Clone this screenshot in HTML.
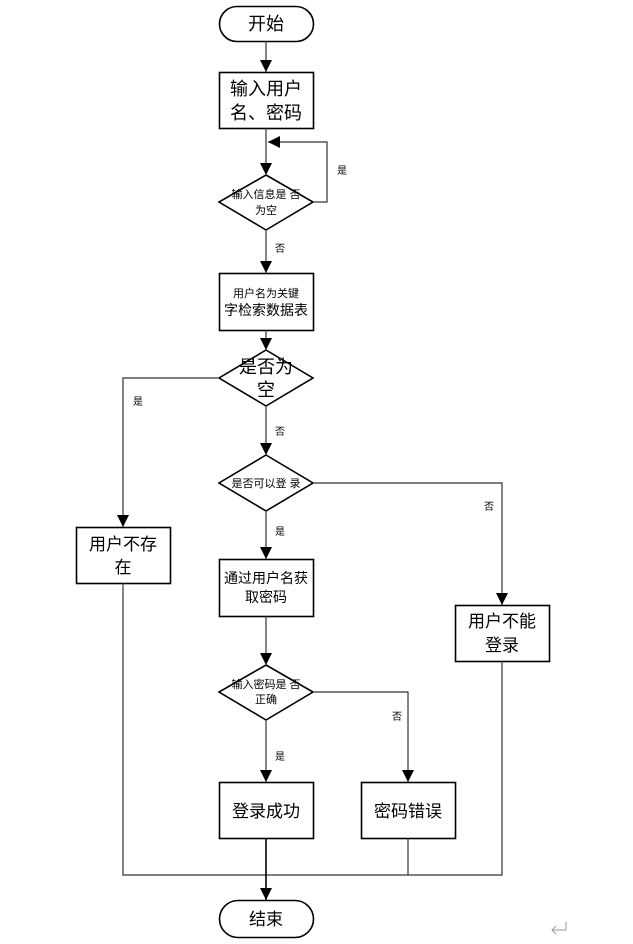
<!DOCTYPE html>
<html><head><meta charset="utf-8"><style>
html,body{margin:0;padding:0;background:#fff;}
svg{display:block;}
text{font-family:"Liberation Sans","Noto Sans CJK SC",sans-serif;fill:#000;text-anchor:middle;}
.b{font-size:18px;}
.s{font-size:11px;}
.l{font-size:10px;}
</style></head><body>
<svg width="633" height="944" viewBox="0 0 633 944" xmlns="http://www.w3.org/2000/svg">
<defs>
<marker id="a" markerWidth="14" markerHeight="14" refX="12" refY="6" orient="auto" markerUnits="userSpaceOnUse">
<path d="M0,0 L12,6 L0,12 Z" fill="#000"/></marker>
</defs>
<g fill="none" stroke="#000" stroke-width="1.2">
<!-- shapes -->
<rect x="219.5" y="6.5" width="94" height="35" rx="17.5" stroke-width="1.6"/>
<rect x="219.5" y="72.5" width="94" height="56" stroke-width="1.6"/>
<polygon points="266,175 313,202 266,230 219,202" stroke-width="1.6"/>
<rect x="219.5" y="273.5" width="94" height="57" stroke-width="1.6"/>
<polygon points="266,350 313,378 266,406 219,378" stroke-width="1.6"/>
<polygon points="266,455 313,483 266,511 219,483" stroke-width="1.6"/>
<rect x="76.5" y="527.5" width="94" height="56" stroke-width="1.6"/>
<rect x="219.5" y="559.5" width="94" height="57" stroke-width="1.6"/>
<rect x="455.5" y="605.5" width="94" height="56" stroke-width="1.6"/>
<polygon points="266,665 313,692 266,720 219,692" stroke-width="1.6"/>
<rect x="219.5" y="782.5" width="94" height="56" stroke-width="1.6"/>
<rect x="361.5" y="782.5" width="94" height="56" stroke-width="1.6"/>
<rect x="219.5" y="900.5" width="94" height="37" rx="18.5" stroke-width="1.6"/>
<!-- connectors -->
<g stroke="#333">
<line x1="266" y1="41" x2="266" y2="72" marker-end="url(#a)"/>
<line x1="266" y1="128" x2="266" y2="175" marker-end="url(#a)"/>
<polyline points="313,202 327,202 327,142 268,142" marker-end="url(#a)"/>
<line x1="266" y1="230" x2="266" y2="273" marker-end="url(#a)"/>
<line x1="266" y1="330" x2="266" y2="350" marker-end="url(#a)"/>
<polyline points="219,378 123,378 123,527" marker-end="url(#a)"/>
<line x1="266" y1="406" x2="266" y2="455" marker-end="url(#a)"/>
<polyline points="313,483 502,483 502,605" marker-end="url(#a)"/>
<line x1="266" y1="511" x2="266" y2="559" marker-end="url(#a)"/>
<line x1="266" y1="616" x2="266" y2="665" marker-end="url(#a)"/>
<polyline points="313,692 408,692 408,782" marker-end="url(#a)"/>
<line x1="266" y1="720" x2="266" y2="782" marker-end="url(#a)"/>
<polyline points="123,583 123,875 502,875 502,661"/>
<line x1="408" y1="838" x2="408" y2="875"/>
<line x1="266" y1="838" x2="266" y2="900" marker-end="url(#a)" stroke="#000" stroke-width="1.6"/>
</g>
<polyline points="566,922 566,930 552,930" stroke="#999" stroke-width="1"/>
<polyline points="556,926 552,930 556,934" stroke="#999" stroke-width="1"/>
</g>
<text class="b" x="266" y="30">开始</text>
<text class="b" x="266" y="95">输入用户</text>
<text class="b" x="266" y="119">名、密码</text>
<text class="s" x="266" y="198">输入信息是 否</text>
<text class="s" x="266" y="214">为空</text>
<text class="s" x="266" y="297">用户名为关键</text>
<text class="s" x="266" y="315" style="font-size:14px">字检索数据表</text>
<text class="b" x="266" y="373">是否为</text>
<text class="b" x="266" y="396">空</text>
<text class="s" x="266" y="487">是否可以登 录</text>
<text class="b" x="123" y="550" style="font-size:17px">用户不存</text>
<text class="b" x="123" y="573" style="font-size:17px">在</text>
<text x="266" y="583" style="font-size:14px">通过用户名获</text>
<text x="266" y="602" style="font-size:14px">取密码</text>
<text class="b" x="502" y="627" style="font-size:17px">用户不能</text>
<text class="b" x="502" y="651" style="font-size:17px">登录</text>
<text class="s" x="266" y="688">输入密码是 否</text>
<text class="s" x="266" y="703">正确</text>
<text class="b" x="266" y="817" style="font-size:17px">登录成功</text>
<text class="b" x="408" y="817" style="font-size:17px">密码错误</text>
<text class="b" x="266" y="925" style="font-size:17px">结束</text>
<text class="l" x="342" y="174">是</text>
<text class="l" x="280" y="252">否</text>
<text class="l" x="138" y="405">是</text>
<text class="l" x="280" y="435">否</text>
<text class="l" x="489" y="510">否</text>
<text class="l" x="280" y="535">是</text>
<text class="l" x="397" y="720">否</text>
<text class="l" x="280" y="760">是</text>
</svg>
</body></html>
